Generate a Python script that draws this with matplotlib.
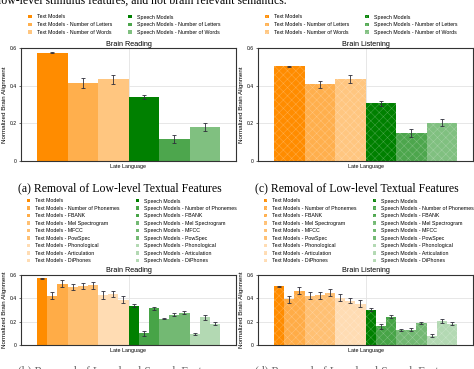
import matplotlib
matplotlib.use("Agg")
import matplotlib.pyplot as plt
from matplotlib.patches import Patch
import numpy as np

W, H = 474, 369

# ---- data -----------------------------------------------------------------
top_labels = ["Text Models", "Text Models - Number of Letters", "Text Models - Number of Words",
              "Speech Models", "Speech Models - Number of Letters", "Speech Models - Number of Words"]
top_shade = [1.0, 0.7, 0.5, 1.0, 0.7, 0.5]
reading_top = [0.575, 0.415, 0.433, 0.338, 0.116, 0.181]
reading_top_err = [0.003, 0.025, 0.025, 0.010, 0.020, 0.020]
listening_top = [0.503, 0.408, 0.435, 0.306, 0.148, 0.204]
listening_top_err = [0.003, 0.018, 0.020, 0.014, 0.020, 0.020]

features = ["Number of Phonemes", "FBANK", "Mel Spectrogram", "MFCC", "PowSpec",
            "Phonological", "Articulation", "DiPhones"]
bot_labels = (["Text Models"] + ["Text Models - " + f for f in features]
              + ["Speech Models"] + ["Speech Models - " + f for f in features])
bot_shade = [1.0, 0.72, 0.72, 0.55, 0.55, 0.55, 0.3, 0.3, 0.3] * 2
reading_bot = [0.571, 0.423, 0.526, 0.494, 0.503, 0.514, 0.431, 0.437, 0.389,
               0.337, 0.100, 0.314, 0.226, 0.260, 0.277, 0.094, 0.237, 0.183]
reading_bot_err = [0.004, 0.030, 0.030, 0.025, 0.025, 0.030, 0.035, 0.025, 0.030,
                   0.012, 0.020, 0.010, 0.007, 0.015, 0.012, 0.012, 0.020, 0.010]
listening_bot = [0.503, 0.394, 0.463, 0.423, 0.426, 0.446, 0.406, 0.380, 0.354,
                 0.303, 0.160, 0.243, 0.129, 0.131, 0.189, 0.080, 0.209, 0.183]
listening_bot_err = [0.004, 0.030, 0.030, 0.028, 0.028, 0.030, 0.030, 0.020, 0.030,
                     0.012, 0.020, 0.012, 0.008, 0.012, 0.010, 0.012, 0.018, 0.010]

category = "Late Language"
yticks = [0, 0.2, 0.4, 0.6]
ytick_labels = ["0", "0.2", "0.4", "0.6"]

ORANGE = np.array([255, 140, 0]) / 255
GREEN = np.array([0, 128, 0]) / 255

plt.rcParams["font.family"] = ["Liberation Sans", "DejaVu Sans"]
plt.rcParams["hatch.linewidth"] = 0.35


def _mix(base, a):
    return tuple(a * np.asarray(base) + (1 - a) * np.ones(3))


def _colors(shades):
    n = len(shades) // 2
    return [_mix(ORANGE if i < n else GREEN, s) for i, s in enumerate(shades)]


def _hatch_col(fc):
    # hatch lines: a lighter tint of the bar, subtle on the saturated bars
    return _mix(fc, 0.72)


def _panel(rect, title, vals, errs, faces, hatched):
    l, t, r, b = rect
    ax = fig.add_axes([l / W, 1 - b / H, (r - l) / W, (b - t) / H])
    n = len(vals)
    w = 1.0 / n
    x = (np.arange(n) - (n - 1) / 2) * w
    bars = ax.bar(x, vals, width=w, color=faces, linewidth=0, zorder=2,
                  yerr=errs, error_kw=dict(ecolor="#2e2e3a", elinewidth=0.6,
                                           capsize=1.2, capthick=0.6, zorder=3))
    if hatched:
        for p, fc in zip(bars, faces):
            p.set_hatch("xxxx")
            p.set_edgecolor(_hatch_col(fc))
    half = 0.5 * (r - l) / 183.0
    ax.set_xlim(-half, half)
    ax.set_ylim(0, 0.6)
    ax.set_xticks([0])
    ax.set_xticklabels([category], fontsize=3.9)
    ax.set_yticks(yticks)
    ax.set_yticklabels(ytick_labels, fontsize=3.6)
    ax.tick_params(axis="x", length=0, pad=2)
    ax.tick_params(axis="y", length=1.5, width=0.5, pad=1.5, color="#333333")
    ax.set_axisbelow(True)
    ax.grid(True, color="#e3e3e3", linewidth=0.6)
    for s in ax.spines.values():
        s.set_color("#333333")
        s.set_linewidth(0.8)
    ax.set_title(title, fontsize=5.2, pad=1.8)
    ax.set_ylabel("Normalized Brain Alignment", fontsize=4.5)
    ax.yaxis.set_label_coords(-14 / (r - l), 0.5)
    return ax


def _legend(x, y, labels, faces, hatched, spacing):
    handles = [Patch(facecolor=fc, edgecolor=_hatch_col(fc) if hatched else fc,
                     hatch="xxxx" if hatched else None, linewidth=0) for fc in faces]
    fig.legend(handles, labels, loc="upper left", bbox_to_anchor=(x / W, 1 - y / H),
               ncol=2, frameon=False, fontsize=3.75, borderpad=0, borderaxespad=0,
               handlelength=0.65, handleheight=0.65, handletextpad=1.0,
               columnspacing=3.1, labelspacing=spacing)


fig = plt.figure(figsize=(W / 100, H / 100), dpi=100)

fig.text(-0.004, 1 - 3.5 / H, "low-level stimulus features, and not brain relevant semantics.",
         family="Liberation Serif", fontsize=8.5, va="baseline", ha="left")

top_faces = _colors(top_shade)
bot_faces = _colors(bot_shade)

_legend(28.3, 14.5, top_labels, top_faces, False, 0.52)
_legend(265.3, 14.5, top_labels, top_faces, True, 0.52)
_panel((21, 48, 236, 161), "Brain Reading", reading_top, reading_top_err, top_faces, False)
_panel((258, 48, 473, 161), "Brain Listening", listening_top, listening_top_err, top_faces, True)

fig.text(120 / W, 1 - 188 / H, "(a) Removal of Low-level Textual Features",
         family="Liberation Serif", fontsize=8.5, ha="center", va="center")
fig.text(357 / W, 1 - 188 / H, "(c) Removal of Low-level Textual Features",
         family="Liberation Serif", fontsize=8.5, ha="center", va="center")

_legend(26.6, 198.5, bot_labels, bot_faces, False, 0.47)
_legend(263.6, 198.5, bot_labels, bot_faces, True, 0.47)
_panel((21, 275, 236, 345), "Brain Reading", reading_bot, reading_bot_err, bot_faces, False)
_panel((258, 275, 473, 345), "Brain Listening", listening_bot, listening_bot_err, bot_faces, True)

fig.text(120 / W, 1 - 366 / H, "(b) Removal of Low-level Speech Features",
         family="Liberation Serif", fontsize=8.5, ha="center", va="top", alpha=0.6)
fig.text(357 / W, 1 - 366 / H, "(d) Removal of Low-level Speech Features",
         family="Liberation Serif", fontsize=8.5, ha="center", va="top", alpha=0.6)

fig.savefig("out.png", dpi=100)
